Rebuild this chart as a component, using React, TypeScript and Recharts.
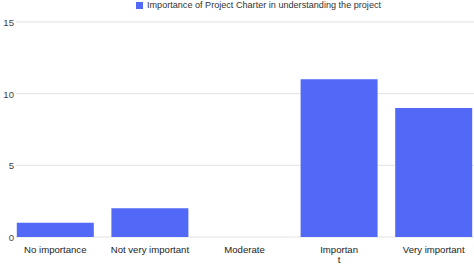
import { BarChart, Bar, XAxis, YAxis, CartesianGrid, Legend } from 'recharts';

const categories = ['No importance', 'Not very important', 'Moderate', 'Importan\nt', 'Very important'];
const counts = [1, 2, 0, 11, 9];
const yTicks = [0, 5, 10, 15];
const seriesName = 'Importance of Project Charter in understanding the project';

const data = categories.map((name, i) => ({ name, count: counts[i] }));

const XTick = (props: any) => {
  const { x, y, payload } = props;
  const lines = String(payload.value).split('\n');
  return (
    <text x={x} y={y} textAnchor="middle" fill="#222" fontSize={9.6} fontFamily="Liberation Sans, Arial, sans-serif">
      {lines.map((l, i) => (
        <tspan key={i} x={x} dy={i === 0 ? 8 : 10}>
          {l}
        </tspan>
      ))}
    </text>
  );
};

const YTick = (props: any) => {
  const { x, y, payload } = props;
  return (
    <text x={x + 12} y={y} dy={4} textAnchor="end" fill="#444" fontSize={9.6} fontFamily="Liberation Sans, Arial, sans-serif">
      {payload.value}
    </text>
  );
};

const GridLine = (props: any) => {
  const { x1, x2, y1, y2 } = props;
  return <line x1={x1 + 8} x2={x2} y1={y1} y2={y2} stroke="#e2e2e2" strokeWidth={1} />;
};

export default function App() {
  return (
    <div style={{ position: 'absolute', left: 0, top: 0, width: 474, height: 264, overflow: 'hidden', background: '#fff' }}>
      <BarChart
        width={490}
        height={264}
        data={data}
        margin={{ top: 11, right: 9, left: 0, bottom: 0 }}
        barCategoryGap="9.3%"
      >
        <CartesianGrid vertical={false} horizontal={GridLine as any} />
        <XAxis dataKey="name" interval={0} axisLine={false} tickLine={false} height={27} tick={<XTick />} />
        <YAxis
          domain={[0, 15]}
          ticks={yTicks}
          width={8}
          axisLine={false}
          tickLine={false}
          tick={<YTick />}
          tickMargin={0}
        />
        <Legend
          verticalAlign="top"
          align="center"
          iconType="square"
          iconSize={7}
          wrapperStyle={{ top: 0, left: 23, fontSize: 9.1, lineHeight: '11px', fontFamily: 'Liberation Sans, Arial, sans-serif', color: '#333' }}
          formatter={(v) => <span style={{ color: '#333' }}>{v}</span>}
        />
        <Bar dataKey="count" name={seriesName} fill="#5169f6" isAnimationActive={false} />
      </BarChart>
    </div>
  );
}
